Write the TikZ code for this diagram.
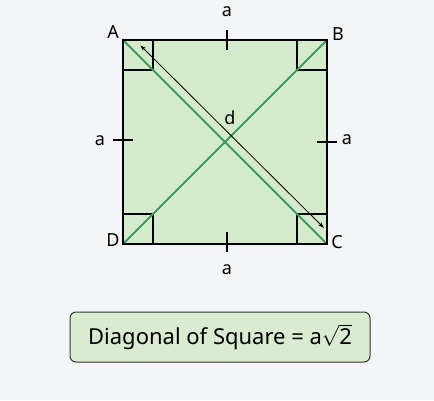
\documentclass[tikz,border=0pt]{standalone}
\usepackage{fontspec}
\setmainfont{Noto Sans}
\usetikzlibrary{arrows.meta}
\definecolor{bgcol}{HTML}{F4F5F6}
\definecolor{sqfill}{HTML}{D3EBCB}
\definecolor{diagcol}{HTML}{3C9C5A}
\definecolor{boxfill}{HTML}{D9ECCF}
\tikzset{
  lbl/.style={inner sep=0pt, font=\fontsize{18}{20}\selectfont},
  tick/.style={line width=1.5pt, black},
  rtbox/.style={line width=1.8pt, black},
}
\begin{document}
\begin{tikzpicture}[x=1pt,y=1pt]
\fill[bgcol] (0,0) rectangle (434,400);
\useasboundingbox (0,0) rectangle (434,400);
\coordinate (vA) at (123,360);
\coordinate (vB) at (327,360);
\coordinate (vC) at (327,156);
\coordinate (vD) at (123,156);
\fill[sqfill] (vA) -- (vB) -- (vC) -- (vD) -- cycle;
\draw[rtbox] (vA) ++(0,-30) -| ++(30,30);
\draw[rtbox] (vB) ++(0,-30) -| ++(-30,30);
\draw[rtbox] (vC) ++(0,30) -| ++(-30,-30);
\draw[rtbox] (vD) ++(0,30) -| ++(30,-30);
\draw[diagcol, line width=1.8pt] (vA) -- (vC);
\draw[diagcol, line width=1.8pt] (vB) -- (vD);
\draw[line width=2pt, black] (vA) -- (vB) -- (vC) -- (vD) -- cycle;
\coordinate (ds) at (140.3,354.7);
\coordinate (de) at (323.8,172.2);
\draw[{Stealth[length=6pt,width=4pt]}-{Stealth[length=6pt,width=4pt]}, line width=0.8pt] (ds) -- (de);
\draw[tick] (227,370) -- (227,350);
\draw[tick] (113,260) -- (133,260);
\draw[tick] (317,258) -- (337,258);
\draw[tick] (227,168) -- (227,148);
\node[lbl] (la) at (113,368){A};
\node[lbl] (lb) at (338,366){B};
\node[lbl] (lc) at (337,158){C};
\node[lbl] (ld) at (113,160){D};
\node[lbl] (stop) at (227,388){a};
\node[lbl] (sleft) at (100,259){a};
\node[lbl] (sright) at (347,260){a};
\node[lbl] (sbot) at (227,130){a};
\node[lbl] (dlen) at (230,282){d};
\node[draw=black!80, line width=1pt, fill=boxfill, rounded corners=6pt, minimum width=300pt, minimum height=50pt, font=\fontsize{22}{24}\selectfont] (formula) at (220,63){Diagonal of Square = a$\sqrt{\mbox{2}}$};
\end{tikzpicture}
\end{document}
